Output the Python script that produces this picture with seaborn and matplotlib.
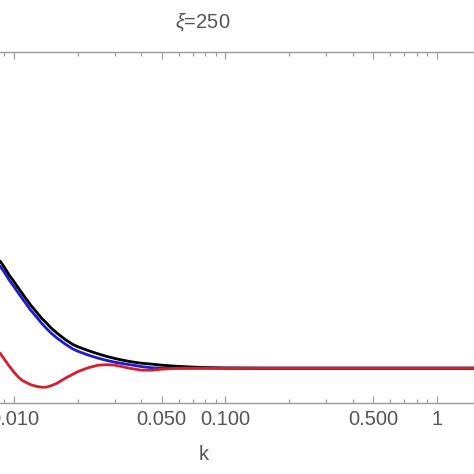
import matplotlib
matplotlib.use("Agg")
import matplotlib.pyplot as plt
import seaborn as sns
import pandas as pd
from matplotlib.ticker import FixedLocator, FixedFormatter, NullFormatter

# values (y in arbitrary units, 0 = flat tail)
k = [0.0086, 0.009, 0.0095, 0.01, 0.0105, 0.011, 0.012, 0.0128, 0.0135, 0.0142,
     0.015, 0.016, 0.0175, 0.019, 0.02, 0.0225, 0.025, 0.0275, 0.03, 0.0325,
     0.035, 0.0375, 0.04, 0.045, 0.05, 0.06, 0.075, 0.1, 0.15, 0.3, 1.0, 1.5]
black = [1.07, 1.01, 0.93, 0.865, 0.80, 0.74, 0.63, 0.56, 0.50, 0.455,
         0.40, 0.35, 0.285, 0.237, 0.215, 0.175, 0.143, 0.117, 0.097, 0.081,
         0.068, 0.058, 0.05, 0.04, 0.03, 0.018, 0.008, 0.002, 0.0, 0.0, 0.0, 0.0]
blue = [1.02, 0.96, 0.88, 0.815, 0.75, 0.69, 0.58, 0.51, 0.45, 0.40,
        0.35, 0.30, 0.24, 0.192, 0.17, 0.13, 0.10, 0.077, 0.06, 0.047,
        0.036, 0.026, 0.016, 0.004, 0.0, 0.0, 0.0, 0.0, 0.0, 0.0, 0.0, 0.0]
red = [0.15, 0.09, 0.02, -0.04, -0.09, -0.125, -0.165, -0.182, -0.19, -0.19,
       -0.175, -0.15, -0.10, -0.06, -0.035, 0.005, 0.03, 0.035, 0.03, 0.015,
       0.0, -0.01, -0.02, -0.02, -0.01, 0.0, 0.0, 0.0, 0.0, 0.0, 0.0, 0.0]

major_ticks = [0.01, 0.05, 0.1, 0.5, 1]
major_labels = ["0.010", "0.050", "0.100", "0.500", "1"]
minor_ticks = [0.008, 0.009, 0.02, 0.03, 0.04, 0.06, 0.07, 0.08, 0.09,
               0.2, 0.3, 0.4, 0.6, 0.7, 0.8, 0.9]

sns.set_style("white")
plt.rcParams["font.family"] = ["Liberation Sans", "DejaVu Sans"]
plt.rcParams["mathtext.fontset"] = "custom"
plt.rcParams["mathtext.it"] = "Liberation Sans:italic"
plt.rcParams["mathtext.rm"] = "Liberation Sans"

df = pd.DataFrame({"k": k, "black": black, "blue": blue, "red": red})

fig = plt.figure(figsize=(4.74, 4.74), dpi=100)
ax = fig.add_axes([0.0, 0.150, 1.0, 0.741])

sns.lineplot(data=df, x="k", y="blue", color="#1c1cd0", lw=2, ax=ax)
sns.lineplot(data=df, x="k", y="black", color="black", lw=2, ax=ax)
sns.lineplot(data=df, x="k", y="red", color="#d41f30", lw=2, ax=ax)

ax.set_xscale("log")
ax.set_xlim(0.00859, 1.496)
ax.set_ylim(-0.347, 3.163)

ax.xaxis.set_major_locator(FixedLocator(major_ticks))
ax.xaxis.set_major_formatter(FixedFormatter(major_labels))
ax.xaxis.set_minor_locator(FixedLocator(minor_ticks))
ax.xaxis.set_minor_formatter(NullFormatter())
ax.set_yticks([])
ax.set_xlabel("")
ax.set_ylabel("")

gray = "#9a9a9a"
for side in ["left", "right"]:
    ax.spines[side].set_visible(False)
for side in ["top", "bottom"]:
    ax.spines[side].set_color(gray)
    ax.spines[side].set_linewidth(1.0)
ax.tick_params(axis="x", which="both", direction="in", top=True, bottom=True,
               color=gray, width=0.8, labelsize=14.5, labelcolor="#555555", pad=5)
ax.tick_params(axis="x", which="major", length=5)
ax.tick_params(axis="x", which="minor", length=3)

fig.text(203 / 474, 1 - 23 / 474, r"$\xi$=250", ha="center", va="center",
         fontsize=14.5, color="#555555")
fig.text(204 / 474, 1 - 454 / 474, "k", ha="center", va="center",
         fontsize=14.5, color="#555555")

fig.savefig("out.png", dpi=100)
